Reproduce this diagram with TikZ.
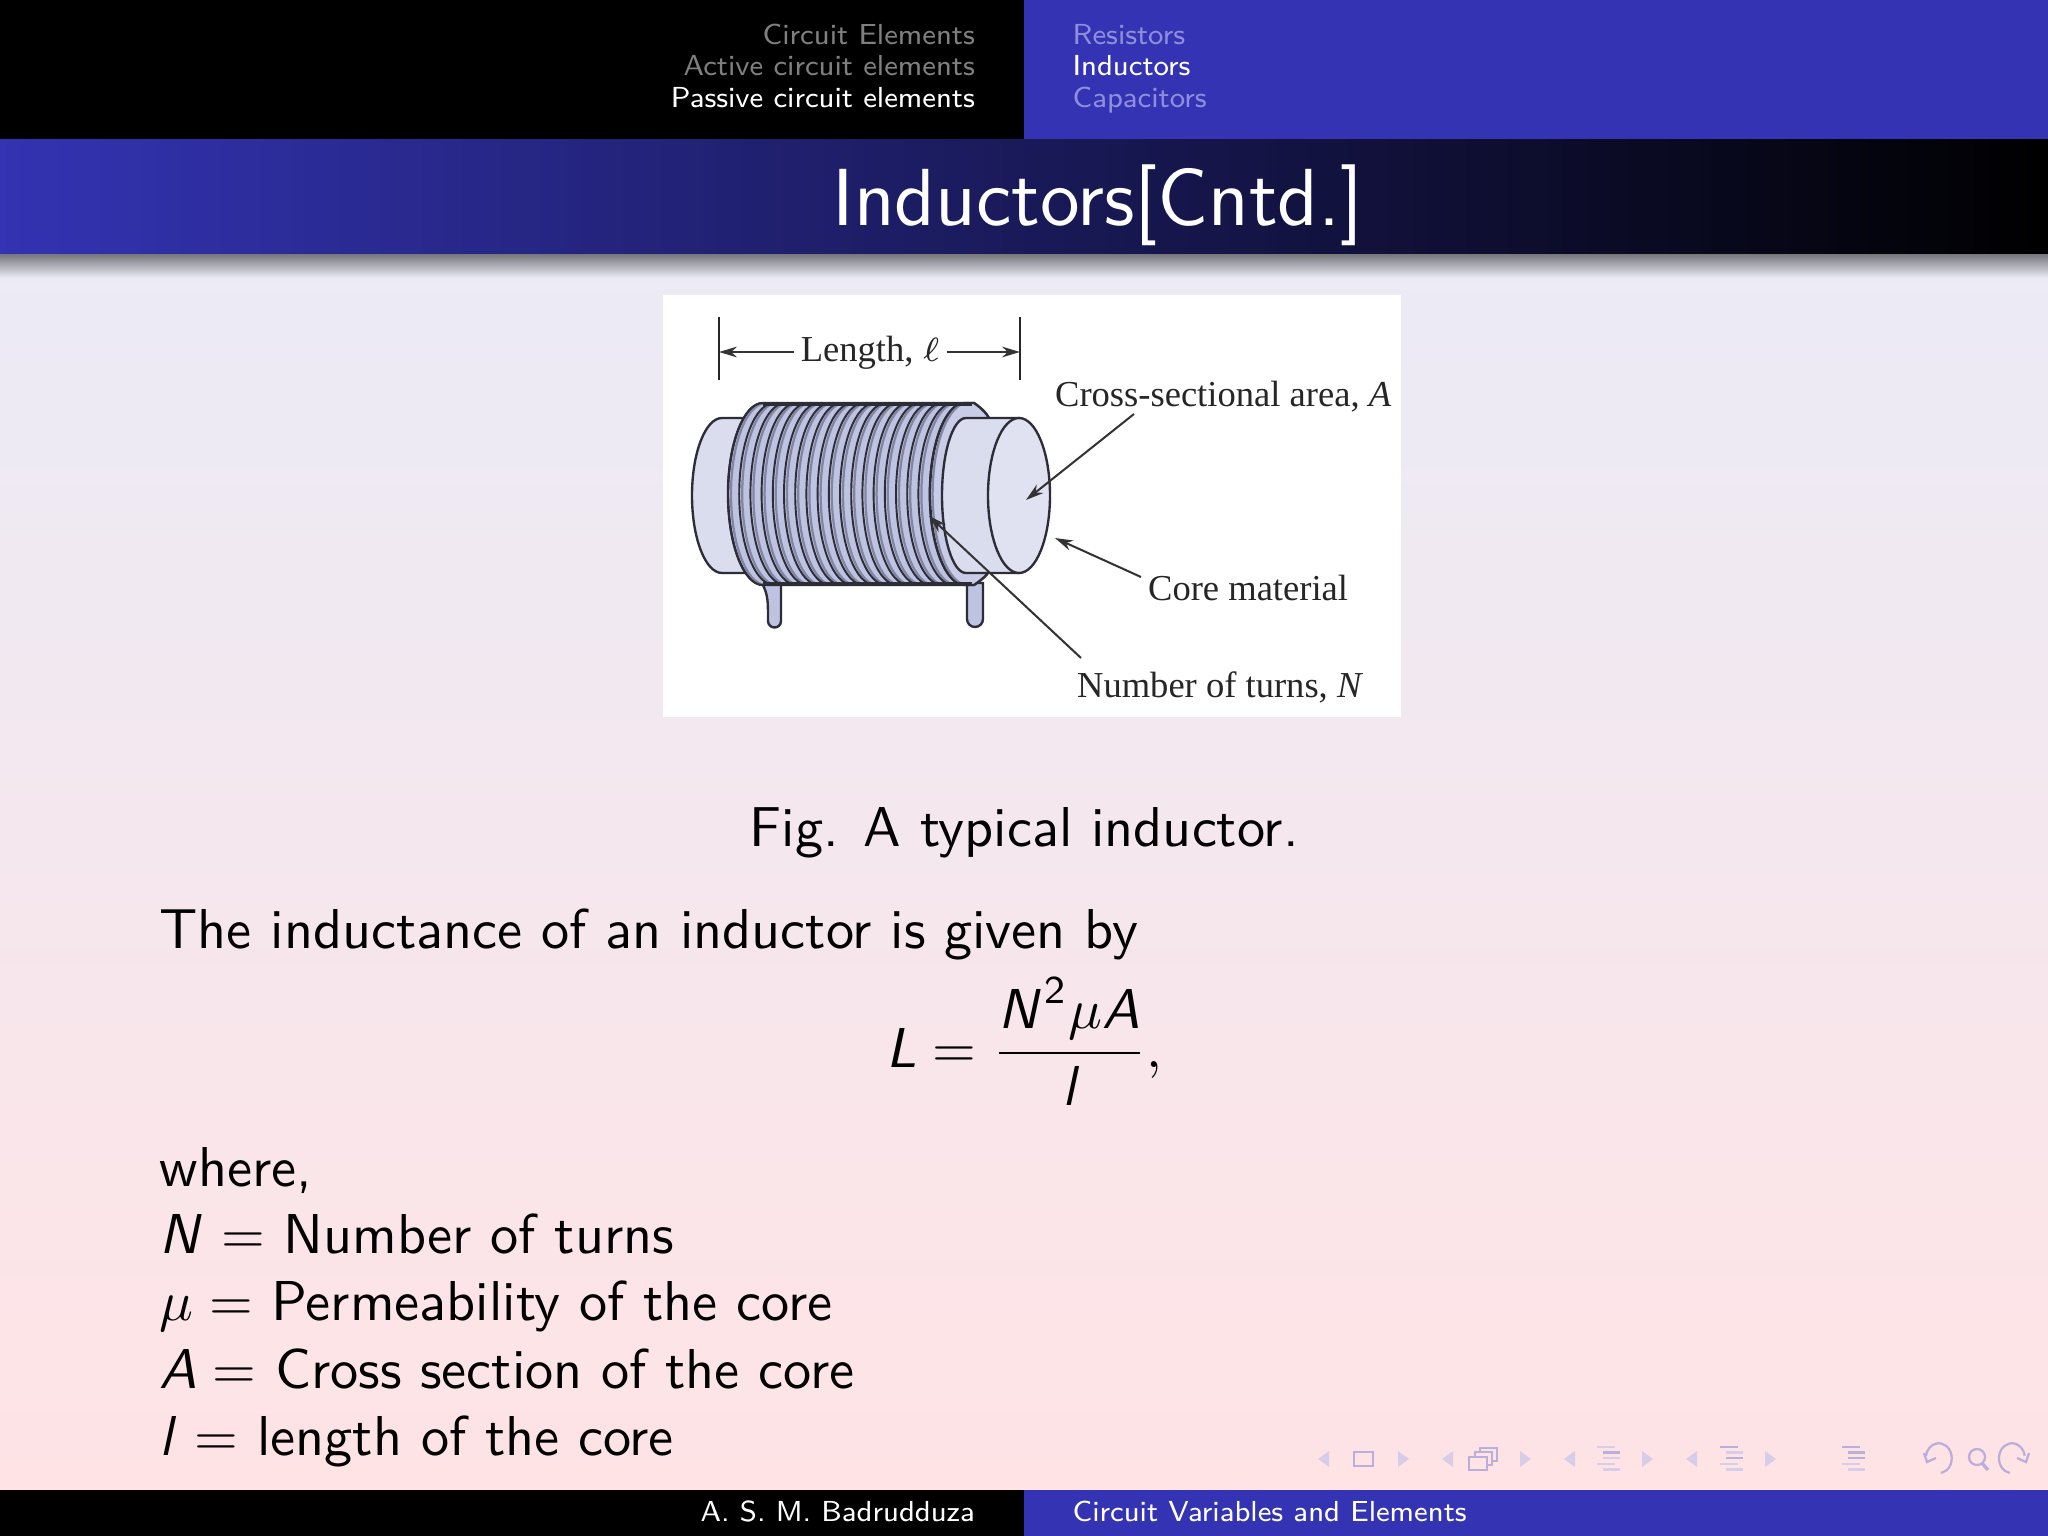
\documentclass[tikz,border=0pt]{standalone}
\usepackage{amsmath}
\usepackage{fontspec}
\newfontfamily\figfont{Liberation Serif}
\usetikzlibrary{arrows.meta}
\definecolor{bmblue}{RGB}{51,51,179}
\definecolor{bgtop}{RGB}{235,235,246}
\definecolor{bgbot}{RGB}{255,227,229}
\definecolor{mutedgray}{RGB}{127,127,127}
\definecolor{mutedblue}{RGB}{142,142,220}
\definecolor{coredk}{RGB}{45,45,55}
\definecolor{corefill}{RGB}{218,221,238}
\definecolor{endfill}{RGB}{224,226,241}
\definecolor{coilfill}{RGB}{190,195,226}
\definecolor{coilshade}{RGB}{130,134,160}
\definecolor{rimfill}{RGB}{200,204,230}
\definecolor{navdark}{RGB}{186,174,218}
\definecolor{navlite}{RGB}{214,205,232}
\newcommand{\msl}[1]{\text{\sffamily\slshape #1}}
\newcommand{\mrm}[1]{\text{\sffamily #1}}
\tikzset{
  head/.style={font=\sffamily\fontsize{5.15}{6}\selectfont\addfontfeatures{FakeBold=0.5},inner sep=0pt},
  body/.style={font=\sffamily\fontsize{10}{12}\selectfont,inner sep=0pt,anchor=base west,text=black},
  figlab/.style={font=\figfont\fontsize{6.5}{7}\selectfont,inner sep=0pt,anchor=base west,text=black!85},
  wire/.style={draw=coredk,line width=0.42pt},
  leader/.style={draw=black!80,line width=0.36pt,-{Stealth[length=3.2pt,width=1.9pt]}},
  bar/.style={draw=black!85,line width=0.36pt},
  navtri/.style={fill=navlite,draw=none},
  navbar/.style={line width=0.5pt,draw=navlite},
  navbard/.style={line width=0.5pt,draw=navdark},
  navline/.style={draw=navdark,line width=0.35pt,fill=none}
}
\newcommand{\navlines}[4]{%
  \draw[#2] (#1,1447)--++(18,0);
  \draw[#3] (#1+6,1452.5)--++(17,0);
  \draw[#4] (#1+6,1458)--++(17,0);
  \draw[navbar] (#1,1464)--++(18,0);
  \draw[navbar] (#1+6,1469.5)--++(17,0);
}
\newcommand{\navL}[2]{\fill[navtri] (#1+11,1451)--(#1,1459)--(#1+11,1467)--cycle;}
\newcommand{\navR}[1]{\fill[navtri] (#1,1451)--(#1+11,1459)--(#1,1467)--cycle;}
\begin{document}
\begin{tikzpicture}[x=0.17783pt,y=-0.17783pt]
\useasboundingbox (0,0) rectangle (2048,1536);
% background
\shade[top color=bgtop,bottom color=bgbot] (0,253) rectangle (2048,1490);
\shade[top color=black!52!bgtop,bottom color=bgtop] (0,253) rectangle (2048,278);
% headline
\fill[black] (0,0) rectangle (1024,139);
\fill[bmblue] (1024,0) rectangle (2048,139);
\shade[left color=bmblue,right color=black] (0,139) rectangle (2048,253);
\node[head,anchor=base east,text=mutedgray] (h1) at (976,45) {Circuit Elements};
\node[head,anchor=base east,text=mutedgray] (h2) at (976,76) {Active circuit elements};
\node[head,anchor=base east,text=white] (h3) at (976,107) {Passive circuit elements};
\node[head,anchor=base west,text=mutedblue] (h4) at (1071.5,45) {Resistors};
\node[head,anchor=base west,text=white] (h5) at (1071.5,76) {Inductors};
\node[head,anchor=base west,text=mutedblue] (h6) at (1071.5,107) {Capacitors};
\node[font=\sffamily\fontsize{14.4}{16}\selectfont,inner sep=0pt,anchor=base,text=white] (title) at (1098,225) {Inductors[Cntd.]};
% footer
\fill[black] (0,1490) rectangle (1024,1536);
\fill[bmblue] (1024,1490) rectangle (2048,1536);
\node[head,anchor=base east,text=white] (f1) at (976,1521) {A. S. M. Badrudduza};
\node[head,anchor=base west,text=white] (f2) at (1071.5,1521) {Circuit Variables and Elements};
% figure
\fill[white] (663,295) rectangle (1401,717);
% core left
\path[wire,fill=corefill] (722,418) arc[start angle=-90,end angle=-270,x radius=30,y radius=77.5] -- (800,573) -- (800,418) -- cycle;
% legs
\path[wire,fill=coilfill] (762,583) .. controls (768,595) and (768,600) .. (768,621) arc[start angle=180,end angle=0,radius=6.5] -- (781,583) -- cycle;
\path[wire,fill=coilfill] (967,583) -- (967,619) arc[start angle=180,end angle=0,radius=8] -- (983,583) -- cycle;
% coil
\path[wire,fill=coilfill] (763,403) arc[start angle=-90,end angle=-270,x radius=35,y radius=91] -- (974,585) .. controls (984,578) and (992,572) .. (992,560) -- (992,430) .. controls (992,418) and (984,410) .. (974,403) -- cycle;
\path[wire,fill=rimfill] (965,403) -- (974,403) .. controls (984,410) and (992,418) .. (992,430) -- (992,560) .. controls (992,572) and (984,578) .. (974,585) -- (965,585) arc[start angle=90,end angle=270,x radius=35,y radius=91] -- cycle;
\foreach \i in {0,...,18}{
  \draw[coilshade,line width=0.4pt] ({766+\i*11.2},403) arc[start angle=-90,end angle=-270,x radius=35,y radius=91];
  \draw[coredk,line width=0.34pt] ({763+\i*11.2},403) arc[start angle=-90,end angle=-270,x radius=35,y radius=91];
}
\draw[coredk,line width=0.7pt] (763,404) -- (972,404);
\draw[coredk,line width=0.7pt] (763,584) -- (972,584);
% core right
\path[wire,fill=corefill] (1019,418) -- (966,418) arc[start angle=-90,end angle=-270,x radius=24,y radius=77.5] -- (1019,573) -- cycle;
\path[wire,fill=endfill] (1019,495.5) ellipse[x radius=31,y radius=77.5];
% dimension
\coordinate (barLt) at (719,317); \coordinate (barLb) at (719,380);
\coordinate (barRt) at (1020,317); \coordinate (barRb) at (1020,380);
\draw[bar] (barLt) -- (barLb);
\draw[bar] (barRt) -- (barRb);
\node[figlab,inner xsep=1pt] (len) at (794,362) {Length, $\ell$};
\draw[leader] (len.west |- 0,352) -- (barLt |- 0,352);
\draw[leader] (len.east |- 0,352) -- (barRt |- 0,352);
% labels
\node[figlab] (area) at (1054,406) {Cross-sectional area, \textit{A}};
\node[figlab] (cmat) at (1147,601) {Core material};
\node[figlab] (turns) at (1076,697) {Number of turns, \textit{N}};
\coordinate (areaS) at (1134,414); \coordinate (areaT) at (1026,500);
\coordinate (cmatS) at (1141,577); \coordinate (cmatT) at (1055,538);
\coordinate (turnS) at (1081,658); \coordinate (turnT) at (929,516);
\draw[leader] (areaS) -- (areaT);
\draw[leader] (cmatS) -- (cmatT);
\draw[leader] (turnS) -- (turnT);
% body
\node[body] (fig) at (748.5,846) {Fig. A typical inductor.};
\node[body] (intro) at (158.5,948) {The inductance of an inductor is given by};
\node[body] (eqn) at (885.5,1067) {$\displaystyle \msl{L}=\frac{{\msl{N}\mkern2mu}^{\mrm{2}}\mu\msl{A}}{\msl{l}},$};
\node[body] (w0) at (158.5,1186) {where,};
\node[body] (w1) at (158.5,1253) {$\msl{N}\mkern2mu=$ Number of turns};
\node[body] (w2) at (158.5,1320) {$\mu=$ Permeability of the core};
\node[body] (w3) at (158.5,1388) {$\msl{A}=$ Cross section of the core};
\node[body] (w4) at (158.5,1455) {$\msl{l}\mkern2mu=$ length of the core};
% navigation symbols
\navL{1318}{}\draw[navline,line width=0.45pt] (1354,1452) rectangle (1373,1466);\navR{1398}
\navL{1442}{}
\draw[navline] (1480,1448) rectangle (1497,1461);
\draw[navline,fill=bgbot] (1475,1452) rectangle (1492,1465);
\draw[navline,fill=bgbot] (1469,1457) rectangle (1487,1470);
\navR{1520}
\navL{1564}{}\navlines{1597}{navbar}{navbard}{navbar}\navR{1642}
\navL{1686}{}\navlines{1720}{navbard}{navbar}{navbard}\navR{1765}
\navlines{1842}{navbard}{navbard}{navbard}
\draw[navdark,line width=0.4pt] (1941,1473) arc[start angle=80,end angle=-170,x radius=13,y radius=15];
\draw[navdark,line width=0.4pt] (1924,1453) -- (1927,1462) -- (1936,1458);
\draw[navdark,line width=0.4pt] (1977,1457) circle[radius=8];
\draw[navdark,line width=0.6pt] (1982,1463) -- (1988,1470);
\draw[navdark,line width=0.4pt] (2009.7,1473) arc[start angle=100,end angle=350,x radius=13,y radius=15];
\draw[navdark,line width=0.4pt] (2029,1453) -- (2026,1462) -- (2017,1458);
\end{tikzpicture}
\end{document}
